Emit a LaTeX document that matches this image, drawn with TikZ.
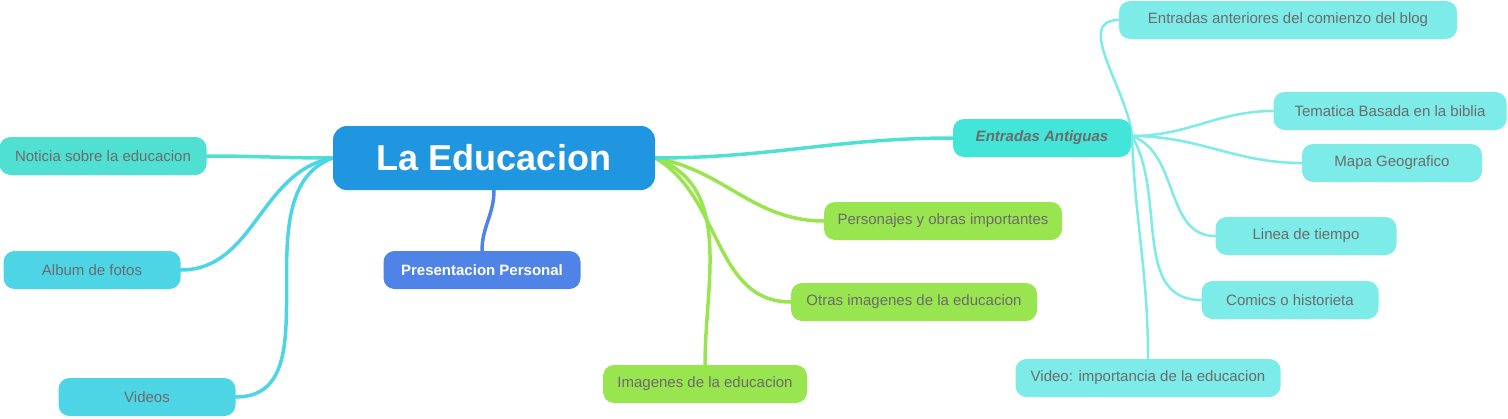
\documentclass[tikz,border=0pt]{standalone}
\usepackage{fontspec}
\setmainfont{Liberation Sans}
\usetikzlibrary{backgrounds}
\definecolor{cmain}{HTML}{2196E0}
\definecolor{cpres}{HTML}{5083E6}
\definecolor{cgreen}{HTML}{99E550}
\definecolor{cteal}{HTML}{4FE0D2}
\definecolor{ccyan}{HTML}{4DD5E6}
\definecolor{clight}{HTML}{7DEBE8}
\definecolor{ctxt}{HTML}{6B6B6B}
\tikzset{
 box/.style={rounded corners=11pt, minimum height=38pt, inner sep=0pt, text=ctxt, font=\fontsize{15}{15}\selectfont},
 link/.style={line width=3.5pt, line cap=round},
 thin/.style={line width=2.5pt, line cap=round, clight},
}
\begin{document}
\begin{tikzpicture}[x=1pt,y=-1pt]
\useasboundingbox (0,0) rectangle (1508,418);
\node[box, fill=cmain, text=white, minimum width=322pt, minimum height=64pt, rounded corners=14pt, font=\fontsize{36}{36}\selectfont\bfseries] (c) at (494,158) {La Educacion};
\node[box, fill=cpres, text=white, minimum width=197pt, font=\fontsize{15}{15}\selectfont\bfseries] (p) at (482,270) {Presentacion Personal};
\node[box, fill=cteal, minimum width=207pt] (n) at (103,156) {Noticia sobre la educacion};
\node[box, fill=ccyan, minimum width=177pt] (a) at (92,270) {Album de fotos};
\node[box, fill=ccyan, minimum width=177pt] (v) at (147,397) {Videos};
\node[box, fill=cgreen, minimum width=238pt] (g1) at (943,221) {Personajes y obras importantes};
\node[box, fill=cgreen, minimum width=246pt] (g2) at (914,302) {Otras imagenes de la educacion};
\node[box, fill=cgreen, minimum width=204pt] (g3) at (705,384) {Imagenes de la educacion};
\node[box, fill=cteal!85!cyan, minimum width=178pt, font=\fontsize{15}{15}\selectfont\bfseries\itshape] (e) at (1042,138) {Entradas Antiguas};
\node[box, fill=clight, minimum width=338pt] (e1) at (1288,20) {Entradas anteriores del comienzo del blog};
\node[box, fill=clight, minimum width=233pt] (e2) at (1390,111) {Tematica Basada en la biblia};
\node[box, fill=clight, minimum width=180pt] (e3) at (1392,163) {Mapa Geografico};
\node[box, fill=clight, minimum width=181pt] (e4) at (1306,236) {Linea de tiempo};
\node[box, fill=clight, minimum width=177pt] (e5) at (1290,300) {Comics o historieta};
\node[box, fill=clight, minimum width=265pt] (e6) at (1148,378) {Video: importancia de la educacion};
\coordinate (eo) at (1132,136);
\begin{scope}[on background layer]
\draw[link, cteal] (c.west) to[out=180,in=0] (n.east);
\draw[link, ccyan] (c.west) to[out=190,in=0] (a.east);
\draw[link, ccyan] (c.west) to[out=200,in=0] (v.east);
\draw[link, cpres] (c.south) to[out=-90,in=90] (p.north);
\draw[link, cgreen] (c.east) to[out=-10,in=180] (g1.west);
\draw[link, cgreen] (c.east) to[out=-30,in=180] (g2.west);
\draw[link, cgreen] (c.east) to[out=-20,in=90] (g3.north);
\draw[link, cteal] (c.east) to[out=0,in=180] (e.west);
\draw[thin] (eo) to[out=95,in=180] (e1.west);
\draw[thin] (eo) to[out=0,in=180] (e2.west);
\draw[thin] (eo) to[out=0,in=180] (e3.west);
\draw[thin] (eo) to[out=-20,in=180] (e4.west);
\draw[thin] (eo) to[out=-60,in=180] (e5.west);
\draw[thin] (eo) to[out=-88,in=90] (e6.north);
\end{scope}
\end{tikzpicture}
\end{document}
